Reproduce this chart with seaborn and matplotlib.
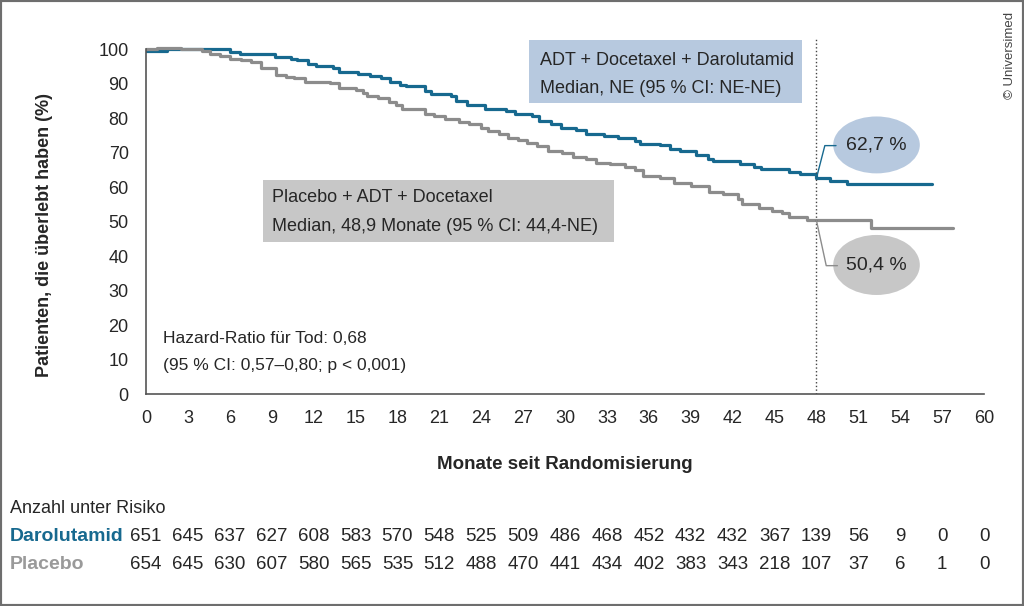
import pandas as pd
import numpy as np
import matplotlib
matplotlib.use("Agg")
import matplotlib.pyplot as plt
import matplotlib.transforms as mtransforms
from matplotlib.patches import Rectangle, Ellipse
import seaborn as sns

# Kaplan-Meier Kurven
daro_monat = [0, 1.5, 6.0, 6.7, 9.2, 10.4, 10.8, 11.6, 12.2, 13.4, 13.8, 15.2, 16.0, 16.8, 17.5,
              18.2, 18.6, 20.0, 20.4, 21.8, 22.2, 23.0, 24.3, 25.8, 26.4, 27.6, 28.1, 29.0, 29.7,
              30.8, 31.5, 32.8, 33.8, 35.0, 35.4, 36.8, 37.5, 38.2, 39.4, 40.2, 40.6, 42.5, 43.5,
              44.0, 46.0, 46.8, 48.0, 49.0, 50.2, 56.3]
daro_ueberlebt = [99.5, 100, 99.3, 98.8, 97.7, 97.2, 96.9, 95.8, 95.2, 94.5, 93.5, 93.0, 92.4, 91.8, 90.5,
                  89.8, 89.3, 87.8, 87.2, 86.5, 85.0, 83.9, 82.6, 82.0, 81.2, 80.6, 79.2, 78.5, 77.3,
                  76.5, 75.4, 75.0, 74.4, 73.5, 72.7, 72.2, 71.2, 70.5, 69.5, 68.2, 67.6, 66.8, 66.0,
                  65.2, 64.5, 63.9, 62.7, 61.9, 61.0, 61.0]

plac_monat = [0, 0.8, 2.5, 4.0, 4.6, 5.3, 6.0, 6.8, 7.5, 8.2, 9.3, 10.0, 10.6, 11.4, 13.2, 13.8,
              15.0, 15.5, 15.8, 16.6, 17.4, 17.9, 18.3, 20.0, 20.6, 21.4, 22.4, 23.1, 24.0, 24.5,
              25.3, 25.9, 26.6, 27.3, 28.0, 28.8, 29.8, 30.6, 31.5, 32.2, 33.2, 34.3, 35.0, 35.6,
              36.8, 37.8, 39.0, 40.3, 41.3, 42.4, 42.7, 43.9, 44.8, 45.5, 46.0, 47.3, 51.9, 57.8]
plac_ueberlebt = [100, 100.5, 100, 99.6, 98.8, 98.1, 97.2, 96.8, 96.2, 94.6, 92.6, 92.1, 91.6, 90.6, 90.2, 88.7,
                  88.3, 87.3, 86.5, 86.0, 84.8, 84.0, 82.6, 81.2, 80.6, 79.7, 79.0, 78.3, 77.3, 76.3,
                  75.5, 74.4, 73.8, 73.0, 72.0, 70.5, 70.0, 68.9, 68.2, 67.2, 66.8, 66.0, 65.0, 63.3,
                  62.6, 61.2, 60.4, 58.6, 58.0, 56.5, 55.2, 53.9, 53.2, 52.5, 51.5, 50.4, 48.1, 48.1]

# Anzahl unter Risiko
risiko_monate = list(range(0, 61, 3))
risiko_daro = [651, 645, 637, 627, 608, 583, 570, 548, 525, 509, 486, 468, 452, 432, 432, 367, 139, 56, 9, 0, 0]
risiko_plac = [654, 645, 630, 607, 580, 565, 535, 512, 488, 470, 441, 434, 402, 383, 343, 218, 107, 37, 6, 1, 0]

blau = "#17698f"
grau = "#8c8c8c"
box_blau = "#b7c9df"
box_grau = "#c7c7c7"

df = pd.concat([
    pd.DataFrame({"monat": daro_monat, "ueberlebt": daro_ueberlebt, "arm": "Darolutamid"}),
    pd.DataFrame({"monat": plac_monat, "ueberlebt": plac_ueberlebt, "arm": "Placebo"}),
])

sns.set_style("white")
plt.rcParams["font.family"] = ["Liberation Sans", "DejaVu Sans"]

fig = plt.figure(figsize=(10.24, 6.06), dpi=100)
ax = fig.add_axes([0.1426, 0.3493, 0.8184, 0.5863])

sns.lineplot(data=df, x="monat", y="ueberlebt", hue="arm", palette={"Darolutamid": blau, "Placebo": grau},
             estimator=None, sort=False, drawstyle="steps-post", linewidth=2.3, legend=False, ax=ax)

ax.set_xlim(0, 60)
ax.set_ylim(0, 103)
ax.set_xticks(risiko_monate)
ax.set_yticks(range(0, 101, 10))
ax.tick_params(axis="x", length=6.5, width=1, color="#555555", pad=5, labelsize=13)
ax.tick_params(axis="y", length=6.5, width=1, color="#555555", pad=6, labelsize=13)
for side in ["top", "right"]:
    ax.spines[side].set_visible(False)
for side in ["left", "bottom"]:
    ax.spines[side].set_color("#555555")
    ax.spines[side].set_linewidth(1.2)
ax.spines["left"].set_bounds(0, 100)

ax.set_xlabel("Monate seit Randomisierung", fontsize=13.5, fontweight="bold")
ax.xaxis.set_label_coords(0.5, -0.174)
ax.set_ylabel("Patienten, die überlebt haben (%)", fontsize=13, fontweight="bold")
ax.yaxis.set_label_coords(-0.111, 0.449)

ax.axvline(48, color="#444444", linestyle=":", linewidth=1)

# Boxen mit Median
ax.add_patch(Rectangle((27.4, 84.4), 19.6, 18.3, fc=box_blau, ec="none", zorder=1))
ax.text(28.2, 96.9, "ADT + Docetaxel + Darolutamid", fontsize=13, va="center", ha="left")
ax.text(28.2, 88.8, "Median, NE (95 % CI: NE-NE)", fontsize=13, va="center", ha="left")

ax.add_patch(Rectangle((8.4, 44.1), 25.1, 18.0, fc=box_grau, ec="none", zorder=1))
ax.text(9.0, 57.2, "Placebo + ADT + Docetaxel", fontsize=13, va="center", ha="left")
ax.text(9.0, 48.6, "Median, 48,9 Monate (95 % CI: 44,4-NE)", fontsize=13, va="center", ha="left")

# Ellipsen mit Werten bei 48 Monaten
ax.add_patch(Ellipse((52.3, 72.3), 6.2, 16.5, fc=box_blau, ec="none", zorder=1))
ax.text(52.3, 72.3, "62,7 %", fontsize=14, ha="center", va="center")
ax.plot([48, 48.6, 49.4], [62.7, 72.1, 72.1], color=blau, linewidth=1)

ax.add_patch(Ellipse((52.3, 37.5), 6.2, 17.4, fc=box_grau, ec="none", zorder=1))
ax.text(52.3, 37.5, "50,4 %", fontsize=14, ha="center", va="center")
ax.plot([48, 48.7, 49.5], [50.4, 37.3, 37.3], color=grau, linewidth=1)

ax.text(1.2, 16.3, "Hazard-Ratio für Tod: 0,68", fontsize=12.5, va="center", ha="left")
ax.text(1.2, 8.5, "(95 % CI: 0,57–0,80; p < 0,001)", fontsize=12.5, va="center", ha="left")

# Risikotabelle
trans = mtransforms.blended_transform_factory(ax.transData, fig.transFigure)
fig.text(0.0098, 0.1617, "Anzahl unter Risiko", fontsize=13, va="center", ha="left")
fig.text(0.0098, 0.1139, "Darolutamid", fontsize=14, fontweight="bold", color=blau, va="center", ha="left")
fig.text(0.0098, 0.0677, "Placebo", fontsize=14, fontweight="bold", color="#9a9a9a", va="center", ha="left")
for m, n1, n2 in zip(risiko_monate, risiko_daro, risiko_plac):
    ax.text(m, 0.1139, str(n1), transform=trans, fontsize=13.5, ha="center", va="center")
    ax.text(m, 0.0677, str(n2), transform=trans, fontsize=13.5, ha="center", va="center")

fig.text(0.986, 0.909, "© Universimed", rotation=90, fontsize=9.5, color="#444444", ha="center", va="center")

fig.patches.append(Rectangle((0, 0), 1, 1, transform=fig.transFigure, fill=False, ec="#6e6e6e", lw=3))

plt.savefig("out.png", dpi=100)
